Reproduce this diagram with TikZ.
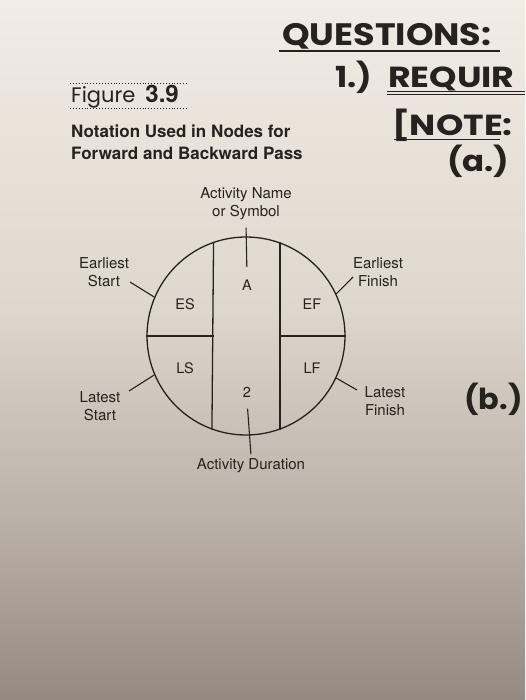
\documentclass[tikz,border=0pt]{standalone}
\usepackage{fontspec}
\setmainfont{TeX Gyre Heros}
\newfontfamily\handfont{Poppins}
\newfontfamily\figfont{Poppins}

\definecolor{ink}{RGB}{38,34,31}
\definecolor{pagetop}{RGB}{241,236,228}
\definecolor{pagemid}{RGB}{222,215,206}
\definecolor{pagelow}{RGB}{186,177,168}
\definecolor{pagebot}{RGB}{148,138,130}
\pgfdeclareverticalshading{pageshade}{100bp}{color(0bp)=(pagebot); color(25bp)=(pagebot);
  color(38bp)=(pagelow); color(53bp)=(pagemid); color(75bp)=(pagetop); color(100bp)=(pagetop)}

\tikzset{
  lbl/.style={text=ink, align=center, font=\fontsize{15}{18}\selectfont},
  cell/.style={text=ink, font=\fontsize{14.5}{16}\selectfont},
  hand/.style={text=ink, font=\handfont\bfseries\fontsize{29}{32}\selectfont, inner sep=0pt},
  rule/.style={draw=ink, line width=1.3pt}
}

\begin{document}
\begin{tikzpicture}[x=1pt,y=-1pt]

%% page
\useasboundingbox (0,0) rectangle (525,700);
\clip (0,0) rectangle (525,700);
\shade[shading=pageshade] (0,0) rectangle (525,700);

%% caption
\draw[ink, dotted, line width=0.9pt] (70,83) -- (187,83);
\draw[ink, dotted, line width=0.9pt] (70,108) -- (187,108);
\node[text=ink, anchor=base west, inner sep=0pt, font=\figfont\fontsize{21}{21}\selectfont] (fig) at (71,103)
  {Figure\hspace{10pt}{\rmfamily\bfseries\fontsize{24}{24}\selectfont 3.9}};
\node[text=ink, anchor=west, align=left, inner sep=0pt, font=\bfseries\fontsize{17}{22}\selectfont] (cap) at (71,142)
  {Notation Used in Nodes for\\Forward and Backward Pass};

%% node circle
\node[draw=ink, circle, minimum size=198pt, inner sep=0pt, line width=1.3pt] (nd) at (246,336) {};
\draw[rule] (nd.109.2) -- (nd.250.8);
\draw[rule] (nd.70.8) -- (nd.-70.8);
\draw[rule] (nd.180) -- (nd.180 -| nd.109.2);
\draw[rule] (nd.0) -- (nd.0 -| nd.70.8);

%% cell entries
\node[cell] (es) at (185,304) {ES};
\node[cell] (ef) at (312,304) {EF};
\node[cell] (ls) at (185,368) {LS};
\node[cell] (lf) at (312,368) {LF};
\node[cell] (act) at (247,285) {A};
\node[cell] (dur) at (247,392) {2};

%% outer labels
\node[lbl] (actname) at (246,204) {Activity Name\\or Symbol};
\node[lbl] (actdur) at (251,466) {Activity Duration};
\node[lbl] (esl) at (104,272) {Earliest\\Start};
\node[lbl] (efl) at (378,272) {Earliest\\Finish};
\node[lbl] (lsl) at (100,406) {Latest\\Start};
\node[lbl] (lfl) at (385,401) {Latest\\Finish};

%% leaders
\coordinate (esend) at (130,282);
\coordinate (efend) at (353,277);
\coordinate (lsend) at (129,391);
\coordinate (lfend) at (357,390);
\draw[rule, line width=1.1pt] (esend) -- (nd.157.3);
\draw[rule, line width=1.1pt] (efend) -- (nd.25.3);
\draw[rule, line width=1.1pt] (lsend) -- (nd.203.8);
\draw[rule, line width=1.1pt] (lfend) -- (nd.-25);
\draw[rule, line width=1.1pt, shorten <=4pt, shorten >=9pt] (actname.south) -- (act.north);
\draw[rule, line width=1.1pt, shorten <=8pt, shorten >=1pt] (dur.south) -- (actdur.north);

%% questions
\node[hand, anchor=base west, xscale=1.13, font=\handfont\bfseries\fontsize{31}{32}\selectfont] (qs) at (282,46) {QUESTIONS:};
\draw[ink, line width=2pt] (279,51) -- (500,51);
\node[hand, anchor=base west, xscale=1.12] (q1) at (335,88) {1.)};
\node[hand, anchor=base west, xscale=1.2] (req) at (388,88) {REQUIR};
\draw[ink, line width=1.5pt] (387,91.5) -- (525,91.5);
\draw[ink, line width=1.5pt] (387,94.5) -- (525,94.5);
\node[hand, anchor=base west, xscale=1.2] (note) at (392,136) {[NOTE:};
\draw[ink, line width=1.6pt] (394,139.5) -- (500,139.5);
\node[hand, anchor=base west, xscale=1.12] (qa) at (447,172) {(a.)};
\node[hand, anchor=base west, xscale=1.05] (qb) at (464,409) {(b.)};

\end{tikzpicture}
\end{document}
